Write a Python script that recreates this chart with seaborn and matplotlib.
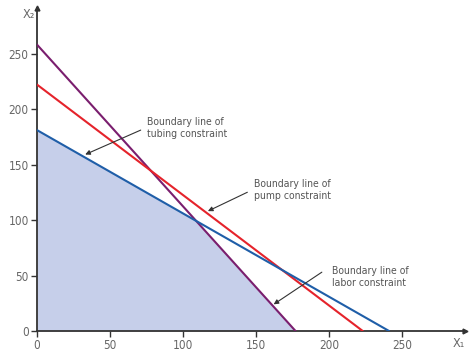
import numpy as np
import pandas as pd
import matplotlib.pyplot as plt
import seaborn as sns

# constraint boundary lines as (X1 intercept, X2 intercept)
constraints = ['labor', 'pump', 'tubing']
x1_intercepts = [177, 223, 241]
x2_intercepts = [258, 222, 181]
line_colors = ['#7a1e6e', '#e5232b', '#1f5ea8']

x_ticks = [0, 50, 100, 150, 200, 250]
y_ticks = [0, 50, 100, 150, 200, 250]

sns.set_style('white')
plt.rcParams['font.family'] = ['DejaVu Sans']
plt.rcParams['font.stretch'] = 'condensed'

fig = plt.figure(figsize=(4.74, 3.54), dpi=100)
ax = fig.add_axes([37 / 474, 23 / 354, 428 / 474, 323 / 354])

# lines, built from the intercepts
rows = []
for name, a, b in zip(constraints, x1_intercepts, x2_intercepts):
    rows.append({'constraint': name, 'X1': 0, 'X2': b})
    rows.append({'constraint': name, 'X1': a, 'X2': 0})
lines = pd.DataFrame(rows)

# feasible region = below every line
xs = np.linspace(0, max(x1_intercepts), 600)
lower = np.min([np.clip(b * (1 - xs / a), 0, None)
                for a, b in zip(x1_intercepts, x2_intercepts)], axis=0)
ax.fill_between(xs, 0, lower, color='#c6cfea', lw=0, zorder=1)

sns.lineplot(data=lines, x='X1', y='X2', hue='constraint', units='constraint',
             estimator=None, palette=dict(zip(constraints, line_colors)),
             linewidth=1.5, legend=False, ax=ax, zorder=3)

ax.set_xlim(0, 293)
ax.set_ylim(0, 291)
ax.set_xticks(x_ticks)
ax.set_yticks(y_ticks)
ax.set_xlabel('')
ax.set_ylabel('')
for s in ['top', 'right']:
    ax.spines[s].set_visible(False)
for s in ['left', 'bottom']:
    ax.spines[s].set_color('#333333')
    ax.spines[s].set_linewidth(1.3)
ax.tick_params(axis='both', direction='out', length=4, width=1, color='#333333',
               labelsize=8.5, labelcolor='#666666', pad=2)
ax.tick_params(axis='x', bottom=True)
ax.tick_params(axis='y', left=True)

# axis arrows and labels
ax.plot(1, 0, '>', color='#333333', ms=3.5, transform=ax.transAxes, clip_on=False)
ax.plot(0, 1, '^', color='#333333', ms=3.5, transform=ax.transAxes, clip_on=False)
ax.text(-0.005, 1.0, 'X₂', transform=ax.transAxes, ha='right', va='top',
        fontsize=9, color='#666666')
ax.text(0.985, -0.02, 'X₁', transform=ax.transAxes, ha='center', va='top',
        fontsize=9, color='#666666')

# annotations
notes = [
    ('Boundary line of\ntubing constraint', (75, 183), (71, 181), (33, 159)),
    ('Boundary line of\npump constraint', (148.5, 127), (144, 125), (117, 108)),
    ('Boundary line of\nlabor constraint', (202, 48.5), (195, 53), (162, 24)),
]
for txt, tpos, tail, head in notes:
    ax.text(tpos[0], tpos[1], txt, ha='left', va='center', fontsize=7.5,
            color='#555555', linespacing=1.25)
    ax.annotate('', xy=head, xytext=tail,
                arrowprops=dict(arrowstyle='-|>', color='#333333', lw=0.8,
                                mutation_scale=7, shrinkA=0, shrinkB=0))

fig.savefig('out.png', dpi=100)
